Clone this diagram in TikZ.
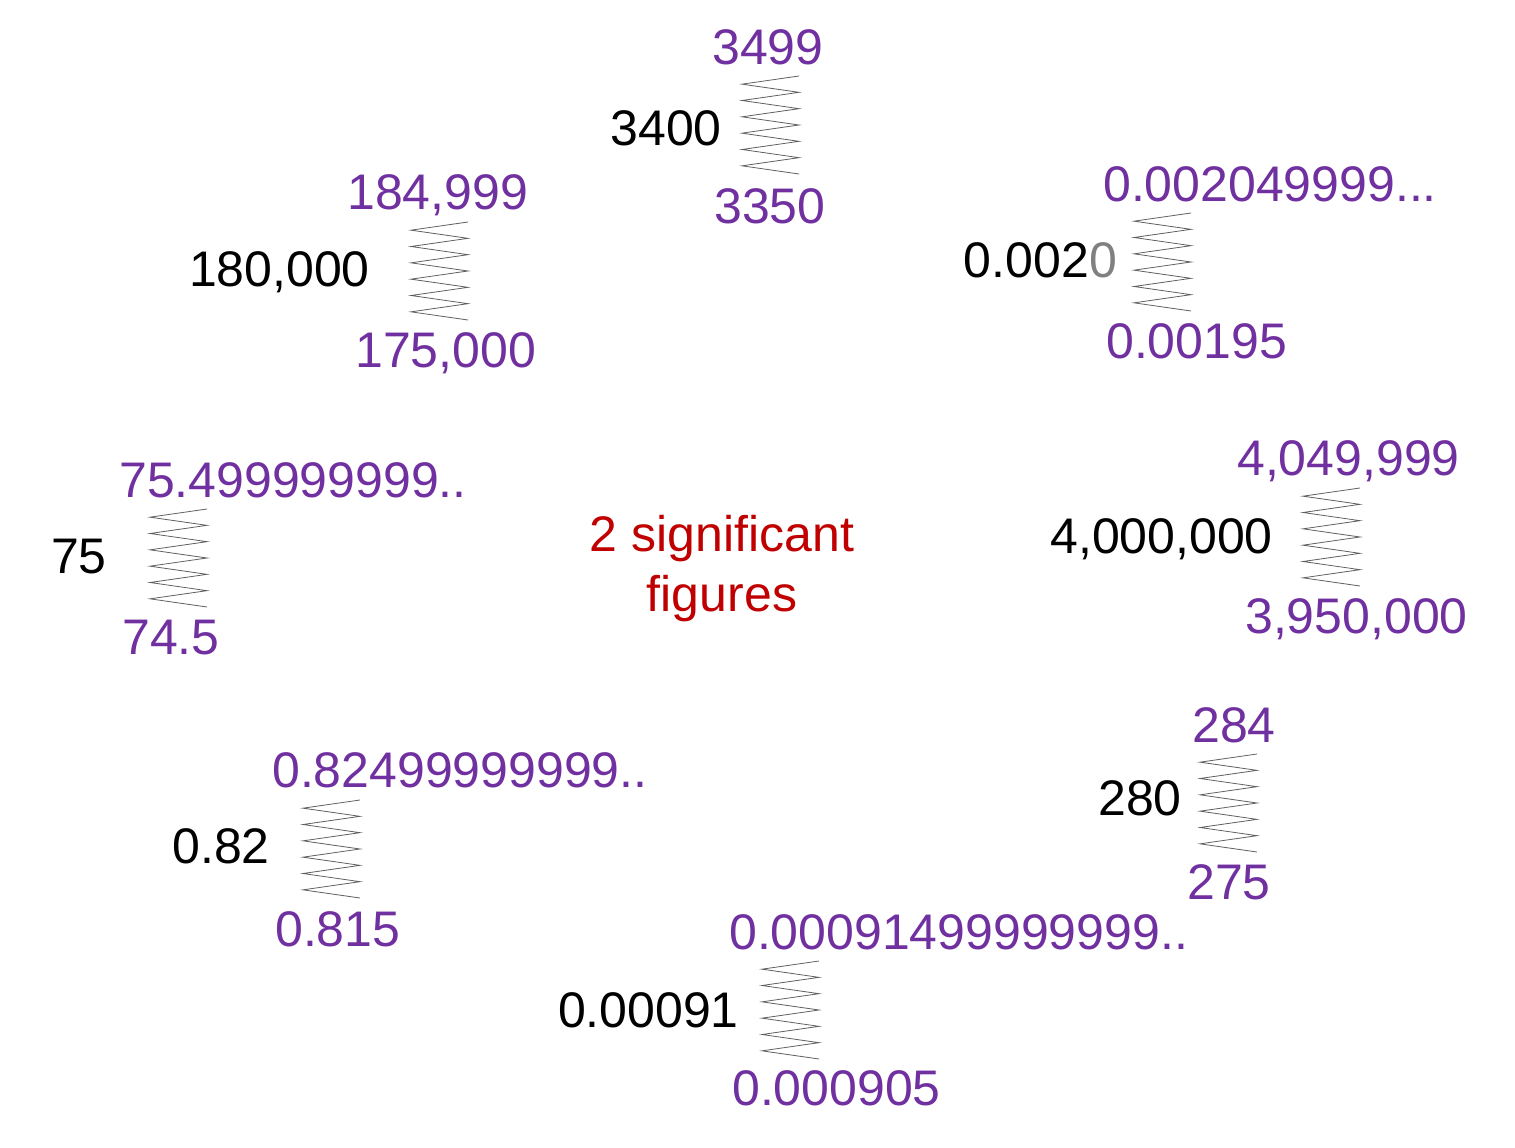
\documentclass[tikz,border=0pt]{standalone}
\usepackage{fontspec}
\setmainfont{Liberation Sans}
\definecolor{boundpurple}{HTML}{7030A0}
\definecolor{titlered}{HTML}{C00000}
\definecolor{zerogray}{HTML}{808080}
\definecolor{springgray}{HTML}{606060}
\tikzset{
  rounded/.style={anchor=base east, inner sep=0pt, text=black},
  upper/.style={anchor=base west, inner sep=0pt, text=boundpurple},
  lower/.style={anchor=base west, inner sep=0pt, text=boundpurple},
  spring/.style={draw=springgray, line width=0.8pt, line join=miter}
}
\begin{document}
\begin{tikzpicture}[x=1pt, y=-1pt, font=\fontsize{50}{60}\selectfont]
    \useasboundingbox (0, 0) rectangle (1515, 1148);

    % Пружинки
    \foreach \xl/\yt in {742/76, 411/222, 1134/213, 150/509, 1303/488, 1200/754, 303/800, 762/961} {
        \draw[spring] (\xl+57, \yt) \foreach \k in {1,...,12} {
            -- ({\xl+57-57*mod(\k,2)}, {\yt+\k*98/12})
        };
    }

    % 3400
    \node[upper] (top1) at(712, 65) {3499};
    \node[rounded] (mid1) at(722, 145) {3400};
    \node[lower] (bot1) at(714, 223) {3350};

    % 180,000
    \node[upper] (top2) at(347, 209) {184,999};
    \node[rounded] (mid2) at(370, 286) {180,000};
    \node[lower] (bot2) at(355, 367) {175,000};

    % 0.0020
    \node[upper] (top3) at(1103, 201) {0.002049999...};
    \node[rounded] (mid3) at(1117, 277) {0.002\textcolor{zerogray}{0}};
    \node[lower] (bot3) at(1106, 358) {0.00195};

    % 75
    \node[upper] (top4) at(119, 497) {75.499999999..};
    \node[rounded] (mid4) at(107, 573) {75};
    \node[lower] (bot4) at(122, 654) {74.5};

    % 4,000,000
    \node[upper] (top5) at(1237, 475) {4,049,999};
    \node[rounded] (mid5) at(1273, 553) {4,000,000};
    \node[lower] (bot5) at(1245, 633) {3,950,000};

    % 280
    \node[upper] (top6) at(1192, 742) {284};
    \node[rounded] (mid6) at(1182, 815) {280};
    \node[lower] (bot6) at(1187, 899) {275};

    % 0.82
    \node[upper] (top7) at(272, 787) {0.82499999999..};
    \node[rounded] (mid7) at(270, 863) {0.82};
    \node[lower] (bot7) at(275, 946) {0.815};

    % 0.00091
    \node[upper] (top8) at(729, 949) {0.00091499999999..};
    \node[rounded] (mid8) at(739, 1027) {0.00091};
    \node[lower] (bot8) at(732, 1105) {0.000905};

    % Заголовок
    \node[align=center, inner sep=0pt, text=titlered] (title) at(722, 569) {2 significant\\figures};
\end{tikzpicture}
\end{document}
